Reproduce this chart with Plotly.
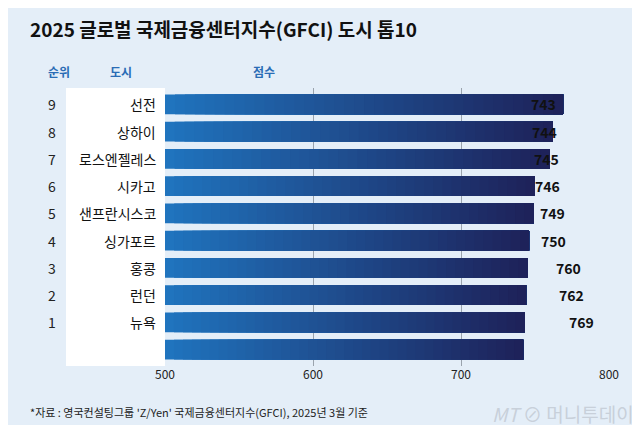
import plotly.graph_objects as go

# GFCI 2025 top 10
ranks = ["1", "2", "3", "4", "5", "6", "7", "8", "9", "10"]
cities = ["뉴욕", "런던", "홍콩", "싱가포르", "샌프란시스코", "시카고", "로스엔젤레스", "상하이", "선전", "서울"]
scores = [769, 762, 760, 750, 749, 746, 745, 744, 743, 742]
tick_vals = [500, 600, 700, 800]

BASE = 500
N = 40
left_rgb = (32, 116, 190)
right_rgb = (30, 34, 90)
PLOT_L, PLOT_W = 157, 444


def px(x):
    # pixel x -> paper coords
    return (x - PLOT_L) / PLOT_W


fig = go.Figure()

# fake a left-to-right gradient: each layer runs from its start to the bar end
for k in range(N):
    t = k / (N - 1)
    c = tuple(int(left_rgb[i] + (right_rgb[i] - left_rgb[i]) * t) for i in range(3))
    fig.add_trace(go.Bar(
        y=ranks,
        x=[(v - BASE) * (1 - k / N) for v in scores],
        base=[BASE + k * (v - BASE) / N for v in scores],
        orientation="h",
        marker=dict(color="rgb(%d,%d,%d)" % c, line_width=0),
        width=0.72,
        showlegend=False,
        hoverinfo="skip",
    ))

ann = []
for r, c, v in zip(ranks, cities, scores):
    seoul = c == "서울"
    ann.append(dict(x=v, y=r, xref="x", yref="y", text="<b>%d</b>" % v, showarrow=False,
                    xanchor="left", xshift=4, font=dict(size=14, color="#e0202a" if seoul else "#111")))
    ann.append(dict(x=px(150), y=r, xref="paper", yref="y", text="<b>%s</b>" % c if seoul else c,
                    showarrow=False, xanchor="right", font=dict(size=14, color="#111")))
    ann.append(dict(x=px(38), y=r, xref="paper", yref="y", text=r, showarrow=False,
                    font=dict(size=14, color="#222")))

for txt, xp in [("순위", 38), ("도시", 100), ("점수", 243)]:
    ann.append(dict(x=px(xp), y=1.02, xref="paper", yref="paper", text="<b>%s</b>" % txt,
                    showarrow=False, yanchor="bottom", font=dict(size=12, color="#2a6cb5")))

ann.append(dict(x=px(20), y=1.27, xref="paper", yref="paper", xanchor="left",
                text="<b>2025 글로벌 국제금융센터지수(GFCI) 도시 톱10</b>", showarrow=False,
                font=dict(size=19, color="#111")))
ann.append(dict(x=px(20), y=-0.13, xref="paper", yref="paper", xanchor="left", yanchor="top",
                text="*자료 : 영국컨설팅그룹 'Z/Yen' 국제금융센터지수(GFCI), 2025년 3월 기준", showarrow=False,
                font=dict(size=11, color="#222")))
ann.append(dict(x=px(628), y=-0.115, xref="paper", yref="paper", xanchor="right", yanchor="top",
                text="<i>MT</i> ⊘ 머니투데이", showarrow=False,
                font=dict(size=19, color="#c8d0da")))

fig.update_layout(
    width=640, height=425,
    margin=dict(l=157, r=39, t=80, b=67),
    paper_bgcolor="#e4eef8",
    plot_bgcolor="#e4eef8",
    barmode="overlay",
    font=dict(family="Noto Sans CJK KR"),
    annotations=ann,
    shapes=[dict(type="rect", xref="paper", yref="paper", x0=px(58), x1=0,
                 y0=0, y1=1, fillcolor="white", line_width=0, layer="below")],
    xaxis=dict(range=[500, 800], tickvals=tick_vals, showgrid=True, gridcolor="#9aa3ad",
               gridwidth=1, zeroline=False, tickfont=dict(size=12, color="#222"), ticks=""),
    yaxis=dict(type="category", categoryorder="array", categoryarray=ranks[::-1],
               showticklabels=False, showgrid=False, range=[-0.6, 9.6]),
)

fig.write_html("out.html")
